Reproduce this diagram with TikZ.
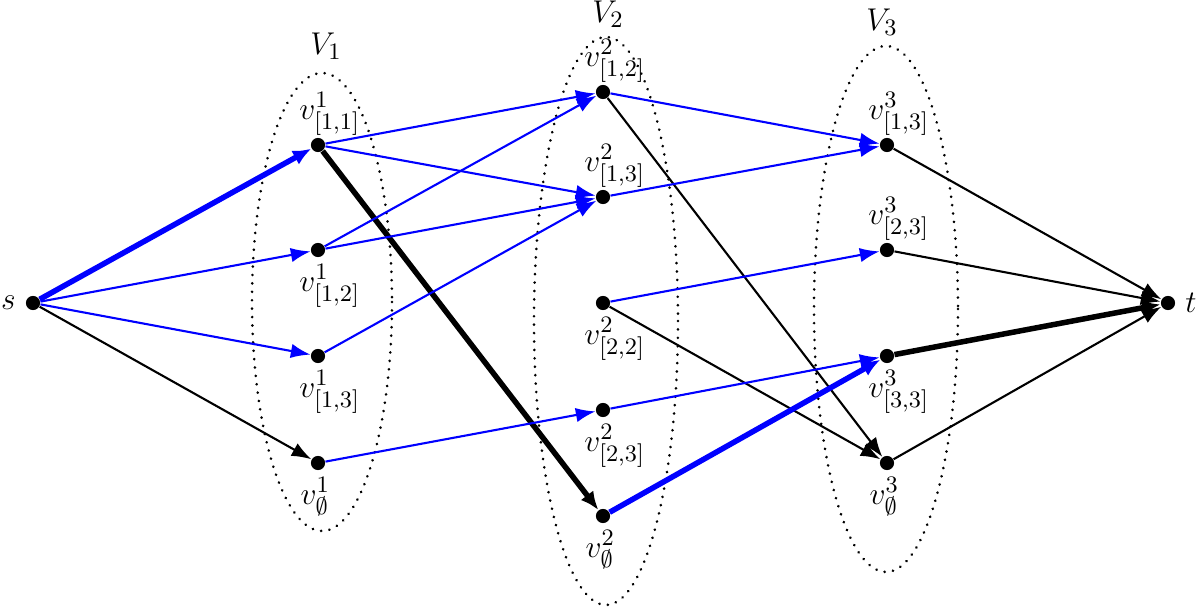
\documentclass[tikz,border=0pt]{standalone}
\usetikzlibrary{arrows.meta}
\begin{document}
\begin{tikzpicture}[x=0.0134cm,y=-0.0134cm,font=\fontsize{13}{15}\selectfont,
  dot/.style={circle,fill=black,inner sep=0pt,minimum size=5.4pt},
  lab/.style={inner sep=0.5pt},
  thinb/.style={draw=blue,line width=0.8pt,-{Latex[length=7.5pt,width=5.5pt]}},
  think/.style={draw=black,line width=0.8pt,-{Latex[length=7.5pt,width=5.5pt]}},
  thickb/.style={draw=blue,line width=2.1pt,-{Latex[length=7pt,width=6pt]}},
  thickk/.style={draw=black,line width=2.1pt,-{Latex[length=7pt,width=6pt]}},
  grp/.style={draw=black,line width=1.1pt,dash pattern=on 0.01pt off 3.2pt,line cap=round}]
\useasboundingbox (0,0) rectangle (1200,607);
% group ellipses
\draw[grp] (322,302) ellipse [x radius=70, y radius=229];
\draw[grp] (606,321) ellipse [x radius=72, y radius=284];
\draw[grp] (886,309) ellipse [x radius=72, y radius=263];
\node (L1) at (326,46) {$V_1$};
\node (L2) at (608,14) {$V_2$};
\node (L3) at (882,22) {$V_3$};
% nodes
\node[dot,label={[lab,label distance=3pt]left:$s$}] (s) at (33,303) {};
\node[dot,label={[lab,xshift=4.5pt]above:$v^1_{[1,1]}$}] (a1) at (318,145) {};
\node[dot,label={[lab,xshift=4.5pt,yshift=-2pt]below:$v^1_{[1,2]}$}] (a2) at (318,250) {};
\node[dot,label={[lab,xshift=4.5pt,yshift=-2pt]below:$v^1_{[1,3]}$}] (a3) at (318,356) {};
\node[dot,label={[lab,xshift=-1pt,yshift=-2pt]below:$v^1_{\emptyset}$}] (a4) at (318,463) {};
\node[dot,label={[lab,xshift=4.5pt]above:$v^2_{[1,2]}$}] (b1) at (603,92) {};
\node[dot,label={[lab,xshift=4.5pt]above:$v^2_{[1,3]}$}] (b2) at (603,197) {};
\node[dot,label={[lab,xshift=4.5pt,yshift=-2pt]below:$v^2_{[2,2]}$}] (b3) at (603,303) {};
\node[dot,label={[lab,xshift=4.5pt,yshift=-2pt]below:$v^2_{[2,3]}$}] (b4) at (603,410) {};
\node[dot,label={[lab,xshift=-1pt,yshift=-2pt]below:$v^2_{\emptyset}$}] (b5) at (603,516) {};
\node[dot,label={[lab,xshift=4.5pt]above:$v^3_{[1,3]}$}] (c1) at (887,145) {};
\node[dot,label={[lab,xshift=4.5pt]above:$v^3_{[2,3]}$}] (c2) at (887,250) {};
\node[dot,label={[lab,xshift=4.5pt,yshift=-2pt]below:$v^3_{[3,3]}$}] (c3) at (887,356) {};
\node[dot,label={[lab,xshift=-1pt,yshift=-2pt]below:$v^3_{\emptyset}$}] (c4) at (887,463) {};
\node[dot,label={[lab,label distance=3pt]right:$t$}] (t) at (1168,303) {};
% edges
\draw[thickb] (s) -- (a1);
\draw[thinb] (s) -- (a2);
\draw[thinb] (s) -- (a3);
\draw[think] (s) -- (a4);
\draw[thinb] (a1) -- (b1);
\draw[thinb] (a1) -- (b2);
\draw[thickk] (a1) -- (b5);
\draw[thinb] (a2) -- (b1);
\draw[thinb] (a2) -- (b2);
\draw[thinb] (a3) -- (b2);
\draw[thinb] (a4) -- (b4);
\draw[thinb] (b1) -- (c1);
\draw[think] (b1) -- (c4);
\draw[thinb] (b2) -- (c1);
\draw[thinb] (b3) -- (c2);
\draw[think] (b3) -- (c4);
\draw[thinb] (b4) -- (c3);
\draw[thickb] (b5) -- (c3);
\draw[think] (c1) -- (t);
\draw[think] (c2) -- (t);
\draw[thickk] (c3) -- (t);
\draw[think] (c4) -- (t);
\end{tikzpicture}
\end{document}
